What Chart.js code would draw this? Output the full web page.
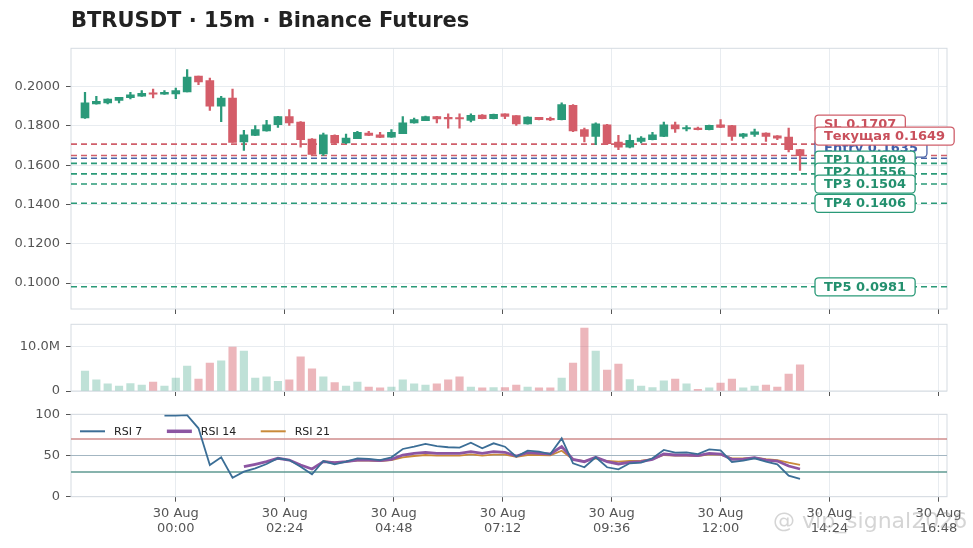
<!DOCTYPE html>
<html><head><meta charset="utf-8">
<script src="https://cdn.jsdelivr.net/npm/chart.js@4.4.1/dist/chart.umd.min.js"></script>
<style>
html,body{margin:0;padding:0;background:#fff;}
#wrap{position:relative;width:973px;height:548px;overflow:hidden;background:#fff;}
canvas{position:absolute;left:0;top:0;}
#title{position:absolute;left:71px;top:9.5px;font:bold 21px/21px "DejaVu Sans",sans-serif;color:#222;white-space:nowrap;}
#wm{position:absolute;left:773px;top:510px;font:22px/22px "DejaVu Sans",sans-serif;color:rgba(150,150,150,0.4);white-space:nowrap;}
</style></head>
<body><div id="wrap">
<canvas id="cPrice" width="973" height="548"></canvas>
<canvas id="cVol" width="973" height="548"></canvas>
<canvas id="cRsi" width="973" height="548"></canvas>
<div id="title">BTRUSDT · 15m · Binance Futures</div>
<div id="wm">@ vip_signal2026</div>
</div>
<script>
// ---------- DATA ----------
const firstCandleMinutes = -120;   // 29 Aug 22:00 relative to 30 Aug 00:00
const intervalMinutes = 15;
const xTickDay = '30 Aug';
const xTickTimes = ['00:00','02:24','04:48','07:12','09:36','12:00','14:24','16:48'];

const opens  = [0.1840,0.1912,0.1917,0.1930,0.1944,0.1951,0.1968,0.1961,0.1963,0.1973,
                0.2053,0.2031,0.1900,0.1942,0.1719,0.1752,0.1774,0.1806,0.1848,0.1820,
                0.1733,0.1658,0.1752,0.1713,0.1735,0.1764,0.1755,0.1743,0.1760,0.1815,
                0.1827,0.1848,0.1843,0.1840,0.1828,0.1855,0.1837,0.1861,0.1852,0.1810,
                0.1843,0.1838,0.1832,0.1905,0.1781,0.1746,0.1806,0.1718,0.1692,0.1721,
                0.1730,0.1746,0.1806,0.1784,0.1789,0.1781,0.1806,0.1801,0.1746,0.1757,
                0.1764,0.1750,0.1743,0.1679];
const highs  = [0.1971,0.1950,0.1938,0.1946,0.1971,0.1980,0.1988,0.1980,0.1993,0.2087,
                0.2053,0.2044,0.1950,0.1988,0.1777,0.1801,0.1828,0.1849,0.1883,0.1822,
                0.1735,0.1764,0.1754,0.1759,0.1772,0.1772,0.1767,0.1781,0.1848,0.1840,
                0.1850,0.1849,0.1861,0.1862,0.1862,0.1857,0.1860,0.1862,0.1853,0.1846,
                0.1844,0.1845,0.1917,0.1908,0.1789,0.1815,0.1808,0.1752,0.1755,0.1746,
                0.1767,0.1820,0.1820,0.1801,0.1794,0.1804,0.1832,0.1803,0.1762,0.1784,
                0.1765,0.1751,0.1789,0.1681];
const lows   = [0.1838,0.1910,0.1912,0.1917,0.1937,0.1950,0.1942,0.1960,0.1939,0.1973,
                0.2010,0.1879,0.1821,0.1716,0.1675,0.1750,0.1773,0.1792,0.1803,0.1692,
                0.1650,0.1650,0.1704,0.1710,0.1735,0.1750,0.1740,0.1742,0.1760,0.1814,
                0.1826,0.1815,0.1789,0.1789,0.1820,0.1836,0.1836,0.1837,0.1803,0.1809,
                0.1831,0.1826,0.1830,0.1770,0.1718,0.1704,0.1705,0.1679,0.1688,0.1713,
                0.1729,0.1745,0.1767,0.1774,0.1780,0.1780,0.1791,0.1726,0.1738,0.1746,
                0.1721,0.1730,0.1667,0.1573];
const closes = [0.1917,0.1925,0.1937,0.1945,0.1958,0.1966,0.1961,0.1971,0.1980,0.2049,
                0.2024,0.1900,0.1942,0.1716,0.1755,0.1781,0.1806,0.1848,0.1815,0.1730,
                0.1655,0.1755,0.1713,0.1738,0.1767,0.1752,0.1741,0.1767,0.1815,0.1832,
                0.1848,0.1835,0.1835,0.1835,0.1854,0.1837,0.1859,0.1848,0.1810,0.1845,
                0.1832,0.1830,0.1908,0.1774,0.1746,0.1810,0.1709,0.1692,0.1726,0.1738,
                0.1755,0.1806,0.1784,0.1791,0.1781,0.1803,0.1792,0.1746,0.1760,0.1770,
                0.1746,0.1738,0.1679,0.1649];
const volumes = [4.5,2.5,1.6,1.1,1.7,1.35,2.0,1.1,2.9,5.6,
                 2.7,6.3,6.8,9.9,9.0,2.9,3.2,2.2,2.5,7.7,
                 5.0,3.2,1.9,1.1,2.0,0.9,0.7,0.9,2.5,1.6,
                 1.35,1.6,2.5,3.2,0.9,0.7,0.8,0.8,1.35,0.9,
                 0.7,0.7,2.9,6.3,14.2,9.0,4.7,6.1,2.6,1.1,
                 0.8,2.3,2.7,1.6,0.4,0.7,1.8,2.7,0.7,1.1,
                 1.35,0.9,3.8,5.9].map(v => v * 1e6);
const rsi7 = [null,null,null,null,null,null,null,
              98.3,98.3,99,83,38.5,47.8,23,30.4,34.5,39.7,46.6,44.5,36.4,27.2,
              43.3,39.3,42.5,46.6,45.8,44.5,47.8,57.9,60.7,64,61.5,60,59.5,65.5,
              58.7,64.8,60.7,48.5,55.8,54.6,51.8,70.8,40.5,35.7,47.8,35.7,33.2,40.5,
              41.3,46.6,56.7,53.4,53.9,51.8,57.5,56.3,42.1,43.7,46.6,42.5,39.3,25.5,21.5];
const rsi14 = [null,null,null,null,null,null,null,null,null,null,null,null,null,null,
               36.4,39.3,42.5,46.6,44.5,38.5,33.6,42.5,41.3,42.5,
               44.5,44.5,43.7,45.3,50.6,52.6,53.9,52.6,52.6,52.6,
               54.6,52.6,54.6,53.9,49.4,53.4,52.6,51.8,60.7,45.3,
               42.5,47.8,42.5,39.7,41.7,42.5,45.3,51.8,50.6,50.6,
               49.8,52.6,51.8,45.3,45.7,47.4,44.5,43.3,37.2,33.6];
const rsi21 = [null,null,null,null,null,null,null,null,null,null,null,null,null,null,
               null,null,null,null,null,null,null,
               43.3,41.3,42.5,43.7,43.7,43.3,44.5,47.8,49.4,50.6,
               49.8,49.8,49.8,51.4,49.8,51,51,48.5,50.6,50.6,
               50.2,55.8,45.3,43.3,46.6,43.3,42.5,43.3,43.7,45.7,
               50.6,49.8,49.8,49.4,51.4,51,46.6,46.6,47.4,45.7,44.5,41.3,38.5];
const levelNames  = ['SL','Текущая','Entry','TP1','TP2','TP3','TP4','TP5'];
const levelValues = [0.1707,0.1649,0.1635,0.1609,0.1556,0.1504,0.1406,0.0981];
const levelKinds  = ['loss','current','entry','tp','tp','tp','tp','tp'];
const priceTicks = [0.10,0.12,0.14,0.16,0.18,0.20];
const volTicks = [0, 10e6];
const rsiTicks = [0, 50, 100];
const rsiLevels = [70, 50, 30];

// ---------- STYLE ----------
const UP = '#2b9a7a', DOWN = '#d45d69';
const UP_VOL = 'rgba(43,154,122,0.3)', DOWN_VOL = 'rgba(212,93,105,0.45)';
const GRID = '#e8ecf0', FRAME = '#d5dbe1', TICKC = '#555', LABELC = '#555';
const FONT = '"DejaVu Sans", sans-serif';
const X_MIN = -1.233, X_MAX = 75.95;
const kindLine = {loss:'#cf5f6b', current:'#cf5f6b', entry:'#4a64a8', tp:'#2a9a78'};
const kindText = {loss:'#c9505c', current:'#c9505c', entry:'#3f5fa8', tp:'#23906e'};
const rsiLevelColors = ['#cf8c8c','#a3b6c2','#5f9a92'];
const rsiLevelWidths = [1.5,1,1.5];

const idx = opens.map((_, i) => i);
const isUp = idx.map(i => closes[i] >= opens[i]);
const tickPos = xTickTimes.map(t => {
  const [h, m] = t.split(':').map(Number);
  return (h * 60 + m - firstCandleMinutes) / intervalMinutes;
});

function xScale(showLabels, height) {
  return {
    type: 'linear', min: X_MIN, max: X_MAX, offset: false,
    afterBuildTicks: s => { s.ticks = tickPos.map(v => ({value: v})); },
    afterFit: s => { s.height = height; },
    grid: {color: GRID, tickColor: TICKC, tickLength: 5, drawTicks: true, offset: false},
    border: {display: false},
    ticks: {display: showLabels, autoSkip: false, maxRotation: 0, padding: 5, color: LABELC,
            font: {family: FONT, size: 13, lineHeight: 1.1},
            callback: (v, i) => [xTickDay, xTickTimes[i]]}
  };
}
function yScale(min, max, vals, fmt) {
  return {
    type: 'linear', position: 'left', min, max, beginAtZero: false,
    afterBuildTicks: s => { s.ticks = vals.map(v => ({value: v})); },
    afterFit: s => { s.width = 71; },
    grid: {color: GRID, tickColor: TICKC, tickLength: 5},
    border: {display: false},
    ticks: {color: LABELC, padding: 6, font: {family: FONT, size: 13}, callback: v => fmt(v)}
  };
}
const framePlugin = {
  id: 'frame',
  beforeDatasetsDraw(chart) {
    const {ctx, chartArea: a} = chart;
    ctx.save(); ctx.strokeStyle = FRAME; ctx.lineWidth = 1;
    ctx.strokeRect(a.left, a.top, a.right - a.left, a.bottom - a.top);
    ctx.restore();
  }
};
const baseOpts = {responsive: false, maintainAspectRatio: false, animation: false, events: [],
  plugins: {legend: {display: false}, tooltip: {enabled: false}}};

// ---------- PRICE ----------
const levelPlugin = {
  id: 'levels',
  beforeDatasetsDraw(chart) {
    const {ctx, chartArea: a, scales: {y}} = chart;
    ctx.save(); ctx.setLineDash([6, 4]); ctx.lineWidth = 1.6;
    levelValues.forEach((v, k) => {
      const py = y.getPixelForValue(v);
      ctx.strokeStyle = kindLine[levelKinds[k]];
      ctx.beginPath(); ctx.moveTo(a.left, py); ctx.lineTo(a.right, py); ctx.stroke();
    });
    ctx.restore();
  },
  afterDatasetsDraw(chart) {
    const {ctx, scales: {x, y}} = chart;
    const order = levelValues.map((_, k) => k).sort((p, q) => levelValues[p] - levelValues[q]);
    const ys = []; let prev = Infinity;
    order.forEach(k => { const py = Math.min(y.getPixelForValue(levelValues[k]), prev - 12); ys[k] = py; prev = py; });
    const lx = x.getPixelForValue(idx.length - 1 + 1.32);
    const drawOrder = levelValues.map((_, k) => k).filter(k => levelKinds[k] !== 'current')
      .concat(levelValues.map((_, k) => k).filter(k => levelKinds[k] === 'current'));
    ctx.save();
    ctx.font = 'bold 13px ' + FONT; ctx.textBaseline = 'middle'; ctx.textAlign = 'left';
    drawOrder.forEach(k => {
      const txt = levelNames[k] + ' ' + levelValues[k].toFixed(4);
      const w = ctx.measureText(txt).width + 18, h = 18, top = ys[k] - h / 2;
      ctx.beginPath(); ctx.roundRect(lx, top, w, h, 3.5);
      ctx.fillStyle = '#fff'; ctx.fill();
      ctx.lineWidth = 1.3; ctx.strokeStyle = kindLine[levelKinds[k]]; ctx.stroke();
      ctx.fillStyle = kindText[levelKinds[k]];
      ctx.fillText(txt, lx + 9, ys[k] + 0.5);
    });
    ctx.restore();
  }
};
new Chart(document.getElementById('cPrice'), {
  type: 'bar',
  data: {datasets: [
    {data: idx.map(i => ({x: i, y: [lows[i], highs[i]]})), backgroundColor: isUp.map(u => u ? UP : DOWN),
     barThickness: 1.6, grouped: false, borderWidth: 0},
    {data: idx.map(i => ({x: i, y: [Math.min(opens[i], closes[i]), Math.max(opens[i], closes[i])]})),
     backgroundColor: isUp.map(u => u ? UP : DOWN), barThickness: 8, grouped: false, borderWidth: 0, minBarLength: 1.5}
  ]},
  options: Object.assign({}, baseOpts, {
    layout: {padding: {left: 0, top: 48.3, right: 26, bottom: 548 - 309 - 6}},
    scales: {x: xScale(false, 6), y: yScale(0.0868, 0.2195, priceTicks, v => v.toFixed(4))}
  }),
  plugins: [framePlugin, levelPlugin]
});

// ---------- VOLUME ----------
new Chart(document.getElementById('cVol'), {
  type: 'bar',
  data: {datasets: [{data: idx.map(i => ({x: i, y: volumes[i]})), backgroundColor: isUp.map(u => u ? UP_VOL : DOWN_VOL),
    barThickness: 7.5, grouped: false, borderWidth: 0}]},
  options: Object.assign({}, baseOpts, {
    layout: {padding: {left: 0, top: 324.3, right: 26, bottom: 548 - 391 - 6}},
    scales: {x: xScale(false, 6), y: yScale(0, 15.06e6, volTicks, v => v === 0 ? '0' : (v / 1e6).toFixed(1) + 'M')}
  }),
  plugins: [framePlugin]
});

// ---------- RSI ----------
const rsiLevelPlugin = {
  id: 'rsiLevels',
  beforeDatasetsDraw(chart) {
    const {ctx, chartArea: a, scales: {y}} = chart;
    ctx.save();
    rsiLevels.forEach((v, k) => {
      const py = y.getPixelForValue(v);
      ctx.strokeStyle = rsiLevelColors[k]; ctx.lineWidth = rsiLevelWidths[k];
      ctx.beginPath(); ctx.moveTo(a.left, py); ctx.lineTo(a.right, py); ctx.stroke();
    });
    ctx.restore();
  },
  afterDatasetsDraw(chart) {
    const {ctx, chartArea: a} = chart;
    ctx.save();
    ctx.font = '11px ' + FONT; ctx.textBaseline = 'middle'; ctx.fillStyle = '#222';
    let x = a.left + 9; const y = a.top + 17;
    chart.data.datasets.forEach(ds => {
      ctx.strokeStyle = ds.borderColor; ctx.lineWidth = ds.legendWidth;
      ctx.beginPath(); ctx.moveTo(x, y); ctx.lineTo(x + 25, y); ctx.stroke();
      x += 34;
      ctx.fillText(ds.label, x, y + 0.5);
      x += ctx.measureText(ds.label).width + 24.5;
    });
    ctx.restore();
  }
};
function rsiSeries(arr) { return idx.filter(i => arr[i] !== null).map(i => ({x: i, y: arr[i]})); }
new Chart(document.getElementById('cRsi'), {
  type: 'line',
  data: {datasets: [
    {label: 'RSI 7', data: rsiSeries(rsi7), borderColor: '#3b6e96', borderWidth: 1.8, legendWidth: 2, pointRadius: 0, tension: 0},
    {label: 'RSI 14', data: rsiSeries(rsi14), borderColor: '#8c55a2', borderWidth: 2.8, legendWidth: 3.5, pointRadius: 0, tension: 0},
    {label: 'RSI 21', data: rsiSeries(rsi21), borderColor: '#c98a3a', borderWidth: 1.8, legendWidth: 2, pointRadius: 0, tension: 0}
  ]},
  options: Object.assign({}, baseOpts, {
    layout: {padding: {left: 0, top: 414.3, right: 26, bottom: 548 - 496.7 - 45}},
    scales: {x: xScale(true, 45), y: yScale(0, 100, rsiTicks, v => String(v))}
  }),
  plugins: [framePlugin, rsiLevelPlugin]
});
</script>
</body></html>
